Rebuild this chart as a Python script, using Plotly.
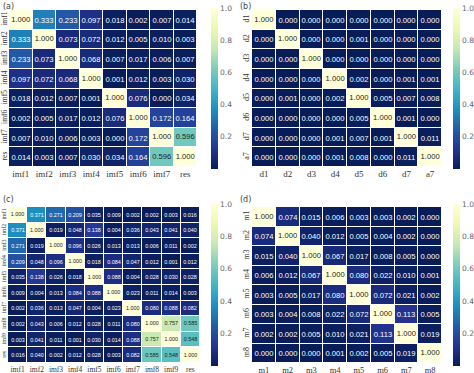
import plotly.graph_objects as go

# ---------------- data ----------------
labels_a = ["imf1", "imf2", "imf3", "imf4", "imf5", "imf6", "imf7", "res"]
values_a = [
    [1.000, 0.333, 0.233, 0.097, 0.018, 0.002, 0.007, 0.014],
    [0.333, 1.000, 0.073, 0.072, 0.012, 0.005, 0.010, 0.003],
    [0.233, 0.073, 1.000, 0.068, 0.007, 0.017, 0.006, 0.007],
    [0.097, 0.072, 0.068, 1.000, 0.001, 0.012, 0.003, 0.030],
    [0.018, 0.012, 0.007, 0.001, 1.000, 0.076, 0.000, 0.034],
    [0.002, 0.005, 0.017, 0.012, 0.076, 1.000, 0.172, 0.164],
    [0.007, 0.010, 0.006, 0.003, 0.000, 0.172, 1.000, 0.596],
    [0.014, 0.003, 0.007, 0.030, 0.034, 0.164, 0.596, 1.000],
]

labels_b = ["d1", "d2", "d3", "d4", "d5", "d6", "d7", "a7"]
values_b = [
    [1.000, 0.000, 0.000, 0.000, 0.000, 0.000, 0.000, 0.000],
    [0.000, 1.000, 0.000, 0.000, 0.001, 0.000, 0.000, 0.000],
    [0.000, 0.000, 1.000, 0.000, 0.000, 0.000, 0.000, 0.000],
    [0.000, 0.000, 0.000, 1.000, 0.002, 0.000, 0.001, 0.001],
    [0.000, 0.001, 0.000, 0.002, 1.000, 0.005, 0.007, 0.008],
    [0.000, 0.000, 0.000, 0.000, 0.005, 1.000, 0.001, 0.000],
    [0.000, 0.000, 0.000, 0.001, 0.007, 0.001, 1.000, 0.011],
    [0.000, 0.000, 0.000, 0.001, 0.008, 0.000, 0.011, 1.000],
]

labels_c = ["imf1", "imf2", "imf3", "imf4", "imf5", "imf6", "imf7", "imf8", "imf9", "res"]
values_c = [
    [1.000, 0.371, 0.271, 0.209, 0.035, 0.009, 0.002, 0.002, 0.003, 0.016],
    [0.371, 1.000, 0.019, 0.048, 0.138, 0.004, 0.036, 0.043, 0.041, 0.040],
    [0.271, 0.019, 1.000, 0.096, 0.026, 0.013, 0.013, 0.006, 0.011, 0.002],
    [0.209, 0.048, 0.096, 1.000, 0.018, 0.084, 0.047, 0.012, 0.001, 0.012],
    [0.035, 0.138, 0.026, 0.018, 1.000, 0.088, 0.004, 0.028, 0.030, 0.028],
    [0.009, 0.004, 0.013, 0.084, 0.088, 1.000, 0.023, 0.011, 0.014, 0.003],
    [0.002, 0.036, 0.013, 0.047, 0.004, 0.023, 1.000, 0.080, 0.088, 0.082],
    [0.002, 0.043, 0.006, 0.012, 0.028, 0.011, 0.080, 1.000, 0.757, 0.585],
    [0.003, 0.041, 0.011, 0.001, 0.030, 0.014, 0.088, 0.757, 1.000, 0.548],
    [0.016, 0.040, 0.002, 0.012, 0.028, 0.003, 0.082, 0.585, 0.548, 1.000],
]

labels_d = ["m1", "m2", "m3", "m4", "m5", "m6", "m7", "m8"]
values_d = [
    [1.000, 0.074, 0.015, 0.006, 0.003, 0.003, 0.002, 0.000],
    [0.074, 1.000, 0.040, 0.012, 0.005, 0.004, 0.002, 0.000],
    [0.015, 0.040, 1.000, 0.067, 0.017, 0.008, 0.005, 0.000],
    [0.006, 0.012, 0.067, 1.000, 0.080, 0.022, 0.010, 0.001],
    [0.003, 0.005, 0.017, 0.080, 1.000, 0.072, 0.021, 0.002],
    [0.003, 0.004, 0.008, 0.022, 0.072, 1.000, 0.113, 0.005],
    [0.002, 0.002, 0.005, 0.010, 0.021, 0.113, 1.000, 0.019],
    [0.000, 0.000, 0.000, 0.001, 0.002, 0.005, 0.019, 1.000],
]

panel_tags = ["(a)", "(b)", "(c)", "(d)"]
cbar_ticks = [0.2, 0.4, 0.6, 0.8, 1.0]

# ---------------- styling ----------------
W, H = 474, 373
colorscale = [
    [0.000, "rgb(8,29,88)"],
    [0.125, "rgb(37,52,148)"],
    [0.250, "rgb(34,94,168)"],
    [0.375, "rgb(29,145,192)"],
    [0.500, "rgb(65,182,196)"],
    [0.625, "rgb(127,205,187)"],
    [0.750, "rgb(199,233,180)"],
    [0.875, "rgb(237,248,177)"],
    [1.000, "rgb(255,255,217)"],
]

panels = [
    dict(labels=labels_a, values=values_a, box=(9, 197, 10, 167), cbx=211, cby=(8, 169),
         tag_xy=(1, 0), cell_font=7.6, xtick_font=9, ytick_font=7.5),
    dict(labels=labels_b, values=values_b, box=(252, 442, 10, 167), cbx=453, cby=(8, 169),
         tag_xy=(238, 0), cell_font=7.6, xtick_font=9, ytick_font=8),
    dict(labels=labels_c, values=values_c, box=(8, 200, 207, 363), cbx=211, cby=(204, 366),
         tag_xy=(1, 193), cell_font=5.4, xtick_font=7.5, ytick_font=6),
    dict(labels=labels_d, values=values_d, box=(252, 442, 207, 363), cbx=453, cby=(204, 366),
         tag_xy=(238, 193), cell_font=7.6, xtick_font=8.5, ytick_font=8),
]

THRESH = 0.45
CELL_FAMILY = "Liberation Sans"

fig = go.Figure()
layout = dict(
    width=W, height=H,
    margin=dict(l=0, r=0, t=0, b=0),
    paper_bgcolor="white", plot_bgcolor="white",
    showlegend=False,
    annotations=[],
)

for i, p in enumerate(panels):
    n = i + 1
    xa = "x" if n == 1 else f"x{n}"
    ya = "y" if n == 1 else f"y{n}"
    labels, values = p["labels"], p["values"]
    x0, x1, yt, yb = p["box"]

    dark_text = [[("%.3f" % v) if v < THRESH else "" for v in row] for row in values]
    fig.add_trace(go.Heatmap(
        z=values, x=labels, y=labels,
        text=dark_text, texttemplate="%{text}",
        textfont=dict(color="white", size=p["cell_font"], family=CELL_FAMILY),
        colorscale=colorscale, zmin=0, zmax=1,
        xgap=1, ygap=1, xaxis=xa, yaxis=ya,
        colorbar=dict(
            x=p["cbx"] / W, xanchor="left", xpad=0,
            y=1 - (p["cby"][0] + p["cby"][1]) / 2 / H, yanchor="middle", ypad=0,
            len=(p["cby"][1] - p["cby"][0]) / H, lenmode="fraction",
            thickness=7, outlinewidth=0,
            tickvals=cbar_ticks, tickformat=".1f", ticks="", ticklen=0,
            tickfont=dict(size=7.5, color="#666", family="DejaVu Sans"),
        ),
        hoverinfo="skip",
    ))

    lx, ly, lt = [], [], []
    for r, row in enumerate(values):
        for c, v in enumerate(row):
            if v >= THRESH:
                lx.append(labels[c]); ly.append(labels[r]); lt.append("%.3f" % v)
    fig.add_trace(go.Scatter(
        x=lx, y=ly, text=lt, mode="text", xaxis=xa, yaxis=ya,
        textfont=dict(color="#222", size=p["cell_font"], family=CELL_FAMILY),
        hoverinfo="skip",
    ))

    axkey_x = "xaxis" if n == 1 else f"xaxis{n}"
    axkey_y = "yaxis" if n == 1 else f"yaxis{n}"
    layout[axkey_x] = dict(
        domain=[x0 / W, x1 / W], anchor=ya, type="category",
        categoryorder="array", categoryarray=labels,
        showgrid=False, zeroline=False, showline=False, ticks="", ticklen=0,
        tickfont=dict(size=p["xtick_font"], color="#333", family="Liberation Serif"),
        automargin=False, fixedrange=True, ticklabelstandoff=0,
    )
    layout[axkey_y] = dict(
        domain=[1 - yb / H, 1 - yt / H], anchor=xa, type="category",
        categoryorder="array", categoryarray=labels, autorange="reversed",
        showgrid=False, zeroline=False, showline=False, ticks="", ticklen=0,
        tickangle=-90,
        tickfont=dict(size=p["ytick_font"], color="#333", family="Liberation Serif"),
        automargin=False, fixedrange=True, ticklabelstandoff=0,
    )
    tx, ty = p["tag_xy"]
    layout["annotations"].append(dict(
        text=panel_tags[i], xref="paper", yref="paper",
        x=tx / W, y=1 - ty / H, xanchor="left", yanchor="top",
        showarrow=False, font=dict(size=8, color="#444", family="DejaVu Sans"),
    ))

fig.update_layout(**layout)
fig.write_html(
    "out.html",
    config={"displayModeBar": False},
    post_script="document.body.style.margin='0';document.body.style.padding='0';",
)
